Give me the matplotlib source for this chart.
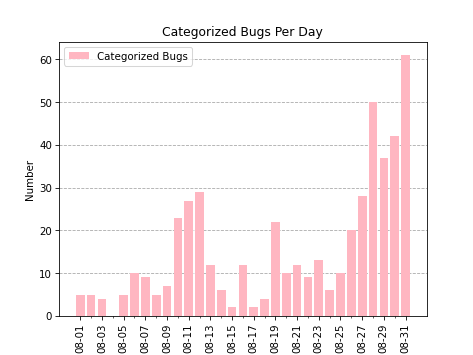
import matplotlib
matplotlib.use('Agg')
import matplotlib.pyplot as plt

days = [f'08-{d:02d}' for d in range(1, 32)]
bugs = [5, 5, 4, 0, 5, 10, 9, 5, 7, 23, 27, 29, 12, 6, 2, 12, 2, 4, 22, 10,
        12, 9, 13, 6, 10, 20, 28, 50, 37, 42, 61]

fig, ax = plt.subplots(figsize=(6.4, 4.8), dpi=74.06)
x = list(range(len(days)))
ax.bar(x, bugs, color='lightpink', label='Categorized Bugs', zorder=2)
ax.set_xticks(x[::2])
ax.set_xticklabels(days[::2], rotation=90)
ax.set_xticks(x, minor=True)
ax.yaxis.grid(True, linestyle='--', color='darkgray', zorder=0)
ax.set_title('Categorized Bugs Per Day')
ax.set_ylabel('Number')
ax.legend(loc='upper left')
fig.savefig('out.png', dpi=74.06)
